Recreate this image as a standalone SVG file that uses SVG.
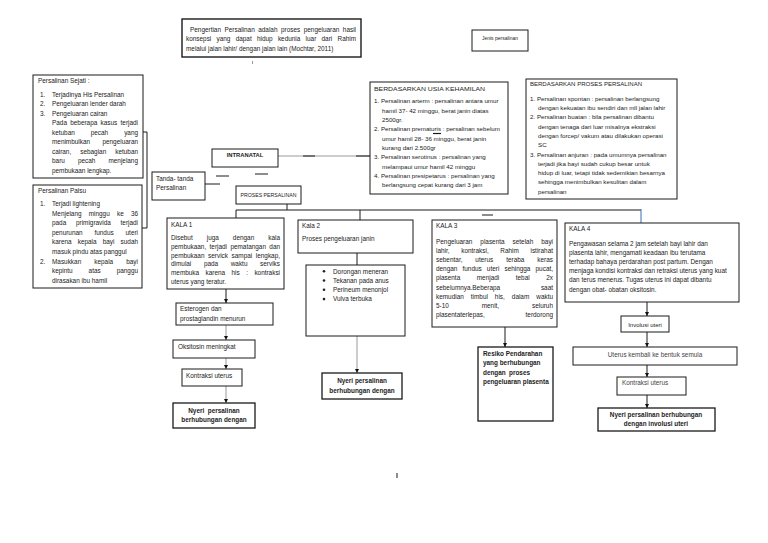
<svg xmlns="http://www.w3.org/2000/svg" width="768" height="543" viewBox="0 0 768 543">
<defs>
<marker id="ah" viewBox="0 0 6 6" refX="6" refY="3" markerWidth="4" markerHeight="4" orient="auto" markerUnits="userSpaceOnUse"><path d="M0,0 L6,3 L0,6 z" fill="#111"/></marker>
<style>
.bx{fill:#fff;stroke:#1a1a1a;stroke-width:1}
.t{font-family:"Liberation Sans",Arial,sans-serif;font-size:6.4px;fill:#222}
.b{font-weight:bold}
.m{text-anchor:middle}
.ln{fill:none;stroke:#1a1a1a;stroke-width:1}
.lg{fill:none;stroke:#9a9a9a;stroke-width:1}
</style>
</defs>
<rect width="768" height="543" fill="#fff"/>

<g id="connectors">
<path class="ln" d="M287,204 V210"/>
<path class="ln" d="M236,210 H641"/>
<path class="ln" d="M236,210 V218"/>
<path class="ln" d="M360,210 V220"/>
<path fill="none" stroke="#3b6fb0" stroke-width="1" d="M641,209 V223"/>
<path class="ln" d="M482,215 H493"/>
<path class="lg" d="M278,156 H370"/>
<path class="ln" d="M303,156 H315 M356,156 H370"/>
<path class="ln" d="M205,184 H220 M216,176 H229 M255,174 H268"/>
<path class="ln" d="M143,132 H147 V228 H142"/>
<path class="ln" d="M226,289 V303" marker-end="url(#ah)"/>
<path class="lg" d="M226,325 V340" marker-end="url(#ah)"/>
<path class="lg" d="M226,358 V369" marker-end="url(#ah)"/>
<path class="lg" d="M226,386 V403" marker-end="url(#ah)"/>
<path class="ln" d="M357,253 V265"/>
<path class="lg" d="M357,336 V373" marker-end="url(#ah)"/>
<path class="ln" d="M505,327 V347" marker-end="url(#ah)"/>
<path class="ln" d="M647,302 V316" marker-end="url(#ah)"/>
<path class="ln" d="M647,332 V347" marker-end="url(#ah)"/>
<path class="ln" d="M647,365 V377" marker-end="url(#ah)"/>
<path class="ln" d="M647,395 V408" marker-end="url(#ah)"/>
<path class="lg" d="M252.5,61 V64"/>
<path class="ln" d="M397,473 V478"/>
</g>

<g id="title">
<rect class="bx" x="182" y="19" width="179" height="38" style="stroke-width:1.4"/>
<text class="t" x="190" y="31.5" style="word-spacing:1.75px" textLength="166" lengthAdjust="spacing">Pengertian Persalinan adalah proses pengeluaran hasil</text>
<text class="t" x="186" y="41" style="word-spacing:3.5px" textLength="170" lengthAdjust="spacing">konsepsi yang dapat hidup kedunia luar dari Rahim</text>
<text class="t" x="186" y="50.5">melalui jalan lahir/ dengan jalan lain (Mochtar, 2011)</text>
</g>

<g id="jenis">
<rect class="bx" x="472" y="30" width="56" height="21"/>
<text class="t m" x="500" y="40" style="font-size:5px">Jenis persalinan</text>
</g>

<g id="sejati">
<rect class="bx" x="33" y="75" width="110" height="103"/>
<text class="t" x="38" y="82.5">Persalinan Sejati :</text>
<text class="t" x="40" y="96.5">1.</text><text class="t" x="52" y="96.5">Terjadinya His Persalinan</text>
<text class="t" x="40" y="106">2.</text><text class="t" x="52" y="106">Pengeluaran lender darah</text>
<text class="t" x="40" y="115.5">3.</text><text class="t" x="52" y="115.5">Pengeluaran cairan</text>
<text class="t" x="52" y="125" style="word-spacing:1.5px" textLength="86" lengthAdjust="spacing">Pada beberapa kasus terjadi</text>
<text class="t" x="52" y="134.5" style="word-spacing:14.2px" textLength="86" lengthAdjust="spacing">ketuban pecah yang</text>
<text class="t" x="52" y="144" style="word-spacing:10.6px" textLength="86" lengthAdjust="spacing">menimbulkan pengeluaran</text>
<text class="t" x="52" y="153.5" style="word-spacing:7.25px" textLength="86" lengthAdjust="spacing">cairan, sebagian ketuban</text>
<text class="t" x="52" y="163" style="word-spacing:11.3px" textLength="86" lengthAdjust="spacing">baru pecah menjelang</text>
<text class="t" x="52" y="172.5">pembukaan lengkap.</text>
</g>

<g id="palsu">
<rect class="bx" x="33" y="185" width="109" height="103"/>
<text class="t" x="38" y="192.5">Persalinan Palsu</text>
<text class="t" x="40" y="206">1.</text><text class="t" x="52" y="206">Terjadi lightening</text>
<text class="t" x="52" y="215.6" style="word-spacing:5.4px" textLength="86" lengthAdjust="spacing">Menjelang minggu ke 36</text>
<text class="t" x="52" y="225.2" style="word-spacing:8px" textLength="86" lengthAdjust="spacing">pada primigravida terjadi</text>
<text class="t" x="52" y="234.8" style="word-spacing:10.1px" textLength="86" lengthAdjust="spacing">penurunan fundus uteri</text>
<text class="t" x="52" y="244.4" style="word-spacing:4.35px" textLength="86" lengthAdjust="spacing">karena kepala bayi sudah</text>
<text class="t" x="52" y="254">masuk pindu atas panggul</text>
<text class="t" x="40" y="263.6">2.</text><text class="t" x="52" y="263.6" style="word-spacing:11.3px" textLength="86" lengthAdjust="spacing">Masukkan kepala bayi</text>
<text class="t" x="52" y="273.2" style="word-spacing:14.2px" textLength="86" lengthAdjust="spacing">kepintu atas panggu</text>
<text class="t" x="52" y="282.8">dirasakan ibu hamil</text>
</g>

<g id="tanda">
<rect class="bx" x="152" y="172" width="53" height="28"/>
<text class="t" x="156" y="181">Tanda- tanda</text>
<text class="t" x="156" y="190">Persalinan</text>
</g>

<g id="intranatal">
<rect class="bx" x="212" y="149" width="66" height="18"/>
<text class="t b m" x="245" y="157" style="font-size:5.8px">INTRANATAL</text>
</g>

<g id="proses">
<rect class="bx" x="236" y="186" width="65" height="18"/>
<text class="t m" x="268.5" y="197" style="font-size:5.2px">PROSES PERSALINAN</text>
</g>

<g id="usia">
<rect class="bx" x="370" y="82" width="138" height="112"/>
<text class="t" x="374" y="91" textLength="111" lengthAdjust="spacingAndGlyphs" style="font-size:6px">BERDASARKAN USIA KEHAMILAN</text>
<text class="t" x="374" y="103.4" style="font-size:6.2px">1. Persalinan arterm : persalinan antara umur</text>
<text class="t" x="382" y="112.7" style="font-size:6.2px">hamil 37- 42 minggu, berat janin diatas</text>
<text class="t" x="382" y="122" style="font-size:6.2px">2500gr.</text>
<text class="t" x="374" y="131.3" style="font-size:6.2px">2. Persalinan prematuris : persalinan sebelum</text>
<text class="t" x="382" y="140.6" style="font-size:6.2px">umur hamil 28- 36 minggu, berat janin</text>
<text class="t" x="382" y="149.9" style="font-size:6.2px">kurang dari 2.500gr</text>
<text class="t" x="374" y="159.2" style="font-size:6.2px">3. Persalinan serotinus : persalinan yang</text>
<text class="t" x="382" y="168.5" style="font-size:6.2px">melampaui umur hamil 42 minggu</text>
<text class="t" x="374" y="177.8" style="font-size:6.2px">4. Persalinan presipetarus : persalinan yang</text>
<text class="t" x="382" y="187.1" style="font-size:6.2px">berlangsung cepat kurang dari 3 jam</text>
<path class="ln" d="M433,133.5 H441" style="stroke-width:1.2"/>
</g>

<g id="jenis-proses">
<rect class="bx" x="526" y="79" width="151" height="120"/>
<text class="t" x="530" y="86" textLength="112" lengthAdjust="spacingAndGlyphs" style="font-size:6px">BERDASARKAN PROSES PERSALINAN</text>
<text class="t" x="530" y="100.7" style="font-size:6.2px">1. Persalinan spontan : persalinan berlangsung</text>
<text class="t" x="538" y="110" style="font-size:6.2px">dengan kekuatan ibu sendiri dan mll jalan lahir</text>
<text class="t" x="530" y="119.3" style="font-size:6.2px">2. Persalinan buatan : bila persalinan dibantu</text>
<text class="t" x="538" y="128.6" style="font-size:6.2px">dengan tenaga dari luar misalnya ekstraksi</text>
<text class="t" x="538" y="137.9" style="font-size:6.2px">dengan forcep/ vakum atau dilakukan operasi</text>
<text class="t" x="538" y="147.2" style="font-size:6.2px">SC</text>
<text class="t" x="530" y="156.5" style="font-size:6.2px">3. Persalinan anjuran : pada umumnya persalinan</text>
<text class="t" x="538" y="165.8" style="font-size:6.2px">terjadi jika bayi sudah cukup besar untuk</text>
<text class="t" x="538" y="175.1" style="font-size:6.2px">hidup di luar, tetapi tidak sedemikian besarnya</text>
<text class="t" x="538" y="184.4" style="font-size:6.2px">sehingga menimbulkan kesulitan dalam</text>
<text class="t" x="538" y="193.7" style="font-size:6.2px">persalinan</text>
</g>

<g id="kala1">
<rect class="bx" x="167" y="218" width="117" height="71"/>
<text class="t" x="171" y="226.5">KALA 1</text>
<text class="t" x="171" y="240" style="word-spacing:12.25px" textLength="109" lengthAdjust="spacing">Disebut juga dengan kala</text>
<text class="t" x="171" y="248.8" style="word-spacing:1.6px" textLength="109" lengthAdjust="spacing">pembukaan, terjadi pematangan dan</text>
<text class="t" x="171" y="257.6" style="word-spacing:1.8px" textLength="109" lengthAdjust="spacing">pembukaan servick sampai lengkap,</text>
<text class="t" x="171" y="266.4" style="word-spacing:10.8px" textLength="109" lengthAdjust="spacing">dimulai pada waktu serviks</text>
<text class="t" x="171" y="275.2" style="word-spacing:4.65px" textLength="109" lengthAdjust="spacing">membuka karena his : kontraksi</text>
<text class="t" x="171" y="284">uterus yang teratur.</text>
</g>

<g id="esterogen">
<rect class="bx" x="176" y="303" width="97" height="22"/>
<text class="t" x="180" y="311">Esterogen dan</text>
<text class="t" x="180" y="320.5">prostaglandin menurun</text>
</g>

<g id="oksitosin">
<rect class="bx" x="173" y="340" width="82" height="18"/>
<text class="t" x="178" y="348.5">Oksitosin meningkat</text>
</g>

<g id="kontraksi1">
<rect class="bx" x="182" y="369" width="60" height="17"/>
<text class="t" x="186" y="378">Kontraksi uterus</text>
</g>

<g id="nyeri1">
<rect class="bx" x="173" y="403" width="82" height="25" style="stroke-width:1.3"/>
<text class="t b m" x="214" y="412.5" xml:space="preserve">Nyeri  persalinan</text>
<text class="t b m" x="214" y="422">berhubungan dengan</text>
</g>

<g id="kala2">
<rect class="bx" x="298" y="220" width="115" height="33"/>
<text class="t" x="302" y="227.5">Kala 2</text>
<text class="t" x="302" y="240.5">Proses pengeluaran janin</text>
</g>

<g id="tanda-kala2">
<rect class="bx" x="306" y="265" width="99" height="71"/>
<circle cx="324" cy="271.3" r="1.3" fill="#222"/><text class="t" x="333" y="273.5">Dorongan meneran</text>
<circle cx="324" cy="280.5" r="1.3" fill="#222"/><text class="t" x="333" y="282.7">Tekanan pada anus</text>
<circle cx="324" cy="289.8" r="1.3" fill="#222"/><text class="t" x="333" y="292">Perineum menonjol</text>
<circle cx="324" cy="299.1" r="1.3" fill="#222"/><text class="t" x="333" y="301.3">Vulva terbuka</text>
</g>

<g id="nyeri2">
<rect class="bx" x="322" y="373" width="80" height="26" style="stroke-width:1.3"/>
<text class="t b m" x="362" y="382.7">Nyeri persalinan</text>
<text class="t b m" x="362" y="392.5">berhubungan dengan</text>
</g>

<g id="kala3">
<rect class="bx" x="432" y="220" width="125" height="107"/>
<text class="t" x="436" y="228">KALA 3</text>
<text class="t" x="436" y="244" style="word-spacing:6.25px" textLength="117" lengthAdjust="spacing">Pengeluaran plasenta setelah bayi</text>
<text class="t" x="436" y="253.1" style="word-spacing:9.8px" textLength="117" lengthAdjust="spacing">lahir, kontraksi, Rahim istirahat</text>
<text class="t" x="436" y="262.2" style="word-spacing:11.1px" textLength="117" lengthAdjust="spacing">sebentar, uterus teraba keras</text>
<text class="t" x="436" y="271.3" style="word-spacing:3.35px" textLength="117" lengthAdjust="spacing">dengan fundus uteri sehingga pucat,</text>
<text class="t" x="436" y="280.4" style="word-spacing:14.8px" textLength="117" lengthAdjust="spacing">plasenta menjadi tebal 2x</text>
<text class="t" x="436" y="289.5" style="word-spacing:39px" textLength="117" lengthAdjust="spacing">sebelumnya.Beberapa saat</text>
<text class="t" x="436" y="298.6" style="word-spacing:5.2px" textLength="117" lengthAdjust="spacing">kemudian timbul his, dalam waktu</text>
<text class="t" x="436" y="307.7" style="word-spacing:31px" textLength="117" lengthAdjust="spacing">5-10 menit, seluruh</text>
<text class="t" x="436" y="316.8" style="word-spacing:39px" textLength="117" lengthAdjust="spacing">plasentaterlepas, terdorong</text>
</g>

<g id="resiko">
<rect class="bx" x="478" y="347" width="75" height="74" style="stroke-width:1.3"/>
<text class="t b" x="483" y="356">Resiko Pendarahan</text>
<text class="t b" x="483" y="365.3">yang berhubungan</text>
<text class="t b" x="483" y="374.7" style="word-spacing:1.5px" textLength="47" lengthAdjust="spacing">dengan proses</text>
<text class="t b" x="483" y="384.3">pengeluaran plasenta</text>
</g>

<g id="kala4">
<rect class="bx" x="565" y="223" width="174" height="79"/>
<text class="t" x="569" y="230.5">KALA 4</text>
<text class="t" x="569" y="245.5">Pengawasan selama 2 jam setelah bayi lahir dan</text>
<text class="t" x="569" y="254.7">plasenta lahir, mengamati keadaan ibu terutama</text>
<text class="t" x="569" y="263.9">terhadap bahaya perdarahan post partum. Dengan</text>
<text class="t" x="569" y="273.1">menjaga kondisi kontraksi dan retraksi uterus yang kuat</text>
<text class="t" x="569" y="282.3">dan terus menerus. Tugas uterus ini dapat dibantu</text>
<text class="t" x="569" y="291.5">dengan obat- obatan oksitosin.</text>
</g>

<g id="involusi">
<rect class="bx" x="621" y="316" width="48" height="16"/>
<text class="t m" x="645" y="326.5" style="font-size:6px">Involusi uteri</text>
</g>

<g id="uterus-kembali">
<rect class="bx" x="573" y="347" width="164" height="18"/>
<text class="t m" x="655" y="356.5" style="fill:#444">Uterus kembali ke bentuk semula</text>
</g>

<g id="kontraksi2">
<rect class="bx" x="617" y="377" width="69" height="18"/>
<text class="t" x="622" y="385" style="fill:#444">Kontraksi uterus</text>
</g>

<g id="nyeri3">
<rect class="bx" x="598" y="408" width="117" height="23" style="stroke-width:1.3"/>
<text class="t b m" x="656" y="417">Nyeri persalinan berhubungan</text>
<text class="t b m" x="656" y="426">dengan involusi uteri</text>
</g>
</svg>
